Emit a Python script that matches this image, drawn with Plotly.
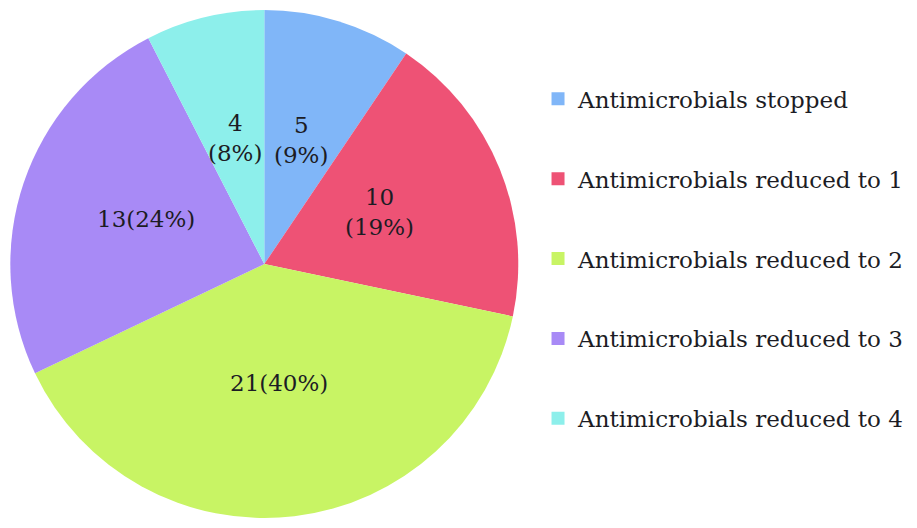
import math

import plotly.graph_objects as go

# slice data
labels = [
    "Antimicrobials stopped",
    "Antimicrobials reduced to 1",
    "Antimicrobials reduced to 2",
    "Antimicrobials reduced to 3",
    "Antimicrobials reduced to 4",
]
counts = [5, 10, 21, 13, 4]
pct_labels = ["9%", "19%", "40%", "24%", "8%"]
line_break = [True, True, False, False, True]
colors = ["#80b6f8", "#ee5275", "#c8f464", "#a88af6", "#8defeb"]

slice_text = [
    f"{c}<br>({p})" if br else f"{c}({p})"
    for c, p, br in zip(counts, pct_labels, line_break)
]

FONT = "DejaVu Serif"
TEXT_COLOR = "#1c1c24"
W, H = 917, 528

# pie placement (paper fractions)
dom_x = [0.001, 0.558]
dom_y = [0.034, 0.996]
label_r = 0.49  # label distance as fraction of radius

fig = go.Figure()

fig.add_trace(
    go.Pie(
        labels=labels,
        values=counts,
        textinfo="none",
        marker=dict(colors=colors, line=dict(width=0)),
        sort=False,
        direction="clockwise",
        rotation=0,
        showlegend=False,
        domain=dict(x=dom_x, y=dom_y),
    )
)

# labels sit at mid angle of each slice, about half way out
cx = (dom_x[0] + dom_x[1]) / 2
cy = (dom_y[0] + dom_y[1]) / 2
r_px = min((dom_x[1] - dom_x[0]) * W, (dom_y[1] - dom_y[0]) * H) / 2
total = sum(counts)
cum = 0
for txt, c in zip(slice_text, counts):
    mid = (cum + c / 2) / total * 2 * math.pi
    cum += c
    fig.add_annotation(
        x=cx + label_r * r_px * math.sin(mid) / W,
        y=cy + label_r * r_px * math.cos(mid) / H,
        xref="paper",
        yref="paper",
        xanchor="center",
        yanchor="middle",
        yshift=5,
        text=txt,
        showarrow=False,
        font=dict(family=FONT, size=23, color=TEXT_COLOR),
    )

# legend entries, one group each so the spacing can be set
for i, (lab, col) in enumerate(zip(labels, colors)):
    fig.add_trace(
        go.Scatter(
            x=[None],
            y=[None],
            mode="markers",
            name=lab,
            legendgroup=f"g{i}",
            marker=dict(symbol="square", size=13, color=col),
        )
    )

fig.update_layout(
    width=W,
    height=H,
    margin=dict(l=0, r=0, t=0, b=0),
    paper_bgcolor="white",
    plot_bgcolor="white",
    xaxis=dict(visible=False),
    yaxis=dict(visible=False),
    legend=dict(
        x=0.578,
        y=0.525,
        xanchor="left",
        yanchor="middle",
        font=dict(family=FONT, size=23, color=TEXT_COLOR),
        tracegroupgap=47,
        traceorder="grouped",
    ),
)

fig.write_html("out.html")
